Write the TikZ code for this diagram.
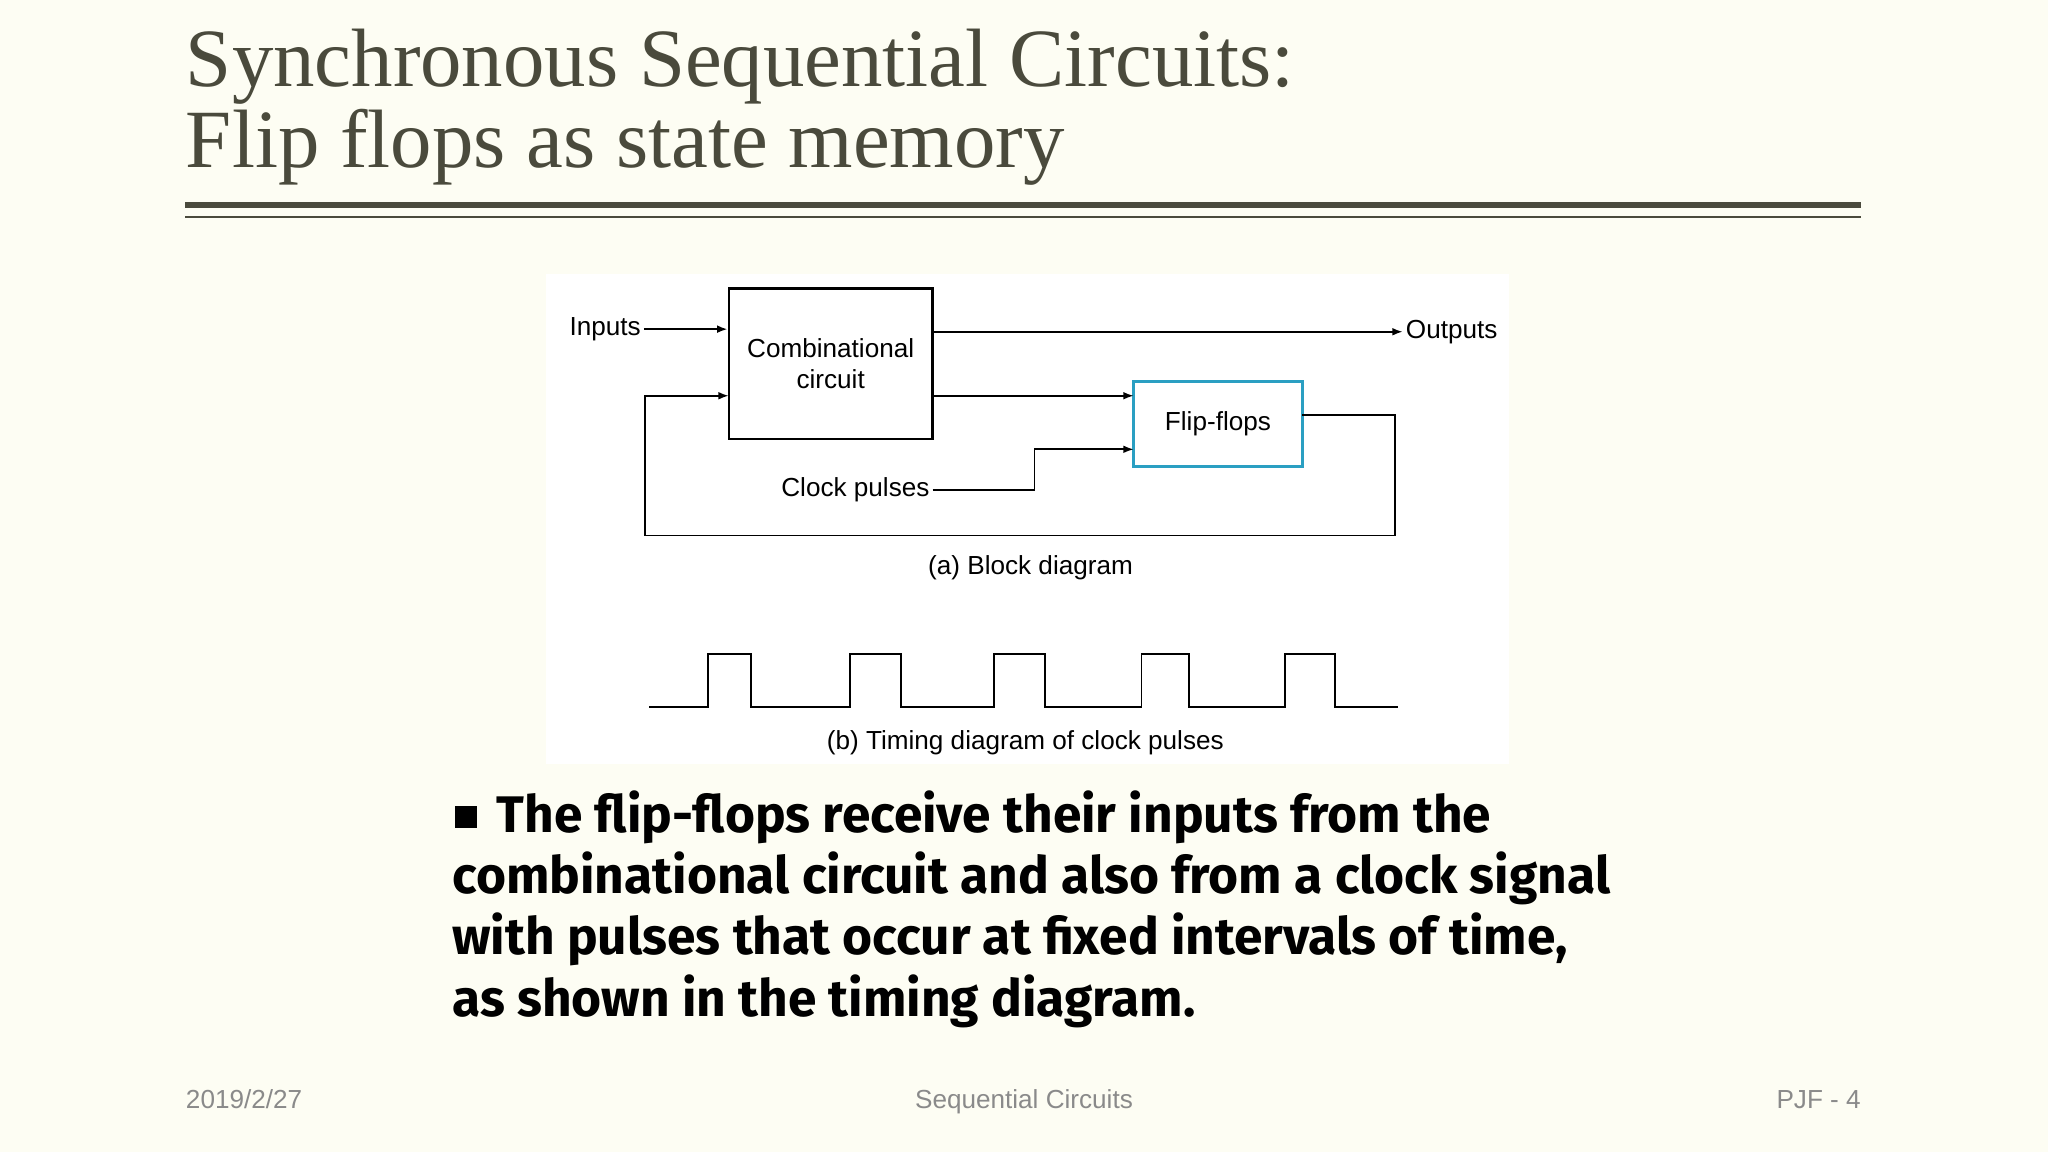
\documentclass[tikz,border=0pt]{standalone}
\usepackage{fontspec}
\setmainfont{Liberation Serif}
\newfontfamily\diag{Liberation Sans}
\newfontfamily\bul{Fira Sans}
\usetikzlibrary{arrows.meta}
\definecolor{bg}{HTML}{FDFDF3}
\definecolor{ttl}{HTML}{4A4A3C}
\definecolor{ff}{HTML}{2A9FC2}
\definecolor{foot}{HTML}{8A8A8A}
\begin{document}
\begin{tikzpicture}[x=0.5pt,y=-0.5pt,
  wire/.style={line width=0.7pt},
  arr/.style={wire,-{Latex[length=4pt,width=3pt]}},
  lbl/.style={font=\diag\fontsize{10}{12}\selectfont,inner sep=1pt},
  bline/.style={font=\bul\bfseries\fontsize{19.7}{23}\selectfont,anchor=base west,inner sep=0pt}]
\fill[bg] (0,0) rectangle (1568,882);
\useasboundingbox (0,0) rectangle (1568,882);
\node[anchor=base west,font=\fontsize{31.7}{34}\selectfont,text=ttl,inner sep=0pt] (t1) at (142,66) {Synchronous Sequential Circuits:};
\node[anchor=base west,font=\fontsize{31.7}{34}\selectfont,text=ttl,inner sep=0pt] (t2) at (142,128) {Flip flops as state memory};
\draw[ttl,line width=2.5pt] (142,157) -- (1425,157);
\draw[ttl,line width=0.9pt] (142,166) -- (1425,166);
\fill[white] (418,210) rectangle (1155,585);
% block diagram
\node[draw,line width=1pt,minimum width=78pt,minimum height=57.5pt,lbl,align=center] (cc) at (636,278.5) {Combinational\\circuit};
\node[draw=ff,line width=1pt,minimum width=64.5pt,minimum height=32.5pt,lbl] (ffn) at (932.5,324.5) {Flip-flops};
\node[lbl,anchor=east] (in) at (493,252) {Inputs};
\node[lbl,anchor=west] (out) at (1074,254) {Outputs};
\node[lbl,anchor=east] (clk) at (714,375) {Clock pulses};
\draw[arr] (in.east) -- (in.east -| cc.west);
\draw[arr] (cc.east |- out.west) -- (out.west);
\draw[arr] (714,303) -- (868,303);
\draw[arr] (clk.east) -- (792,375) -- (792,344) -- (868,344);
\draw[arr] (997,318) -- (1068,318) -- (1068,410) -- (494,410) -- (494,303) -- (558,303);
\node[lbl] (a) at (789,435) {(a) Block diagram};
\draw[wire] (497,541) -- (542,541) -- (542,501) -- (575,501) -- (575,541) -- (651,541) -- (651,501) -- (690,501) -- (690,541) -- (761,541) -- (761,501) -- (800,501) -- (800,541) -- (874,541) -- (874,501) -- (910,501) -- (910,541) -- (984,541) -- (984,501) -- (1022,501) -- (1022,541) -- (1070,541);
\node[lbl] (b) at (785,569) {(b) Timing diagram of clock pulses};
% bullet
\fill (348,617) rectangle (365,634);
\node[bline] (l1) at (380,637) {The flip-flops receive their inputs from the};
\node[bline] (l2) at (346,684) {combinational circuit and also from a clock signal};
\node[bline] (l3) at (346,731) {with pulses that occur at fixed intervals of time,};
\node[bline] (l4) at (346,778) {as shown in the timing diagram.};
% footer
\node[anchor=base west,text=foot,font=\diag\fontsize{10}{12}\selectfont,inner sep=0pt] (d) at (142,849) {2019/2/27};
\node[anchor=base,text=foot,font=\diag\fontsize{10}{12}\selectfont,inner sep=0pt] (s) at (784,849) {Sequential Circuits};
\node[anchor=base east,text=foot,font=\diag\fontsize{10}{12}\selectfont,inner sep=0pt] (p) at (1425,849) {PJF - 4};
\end{tikzpicture}
\end{document}
